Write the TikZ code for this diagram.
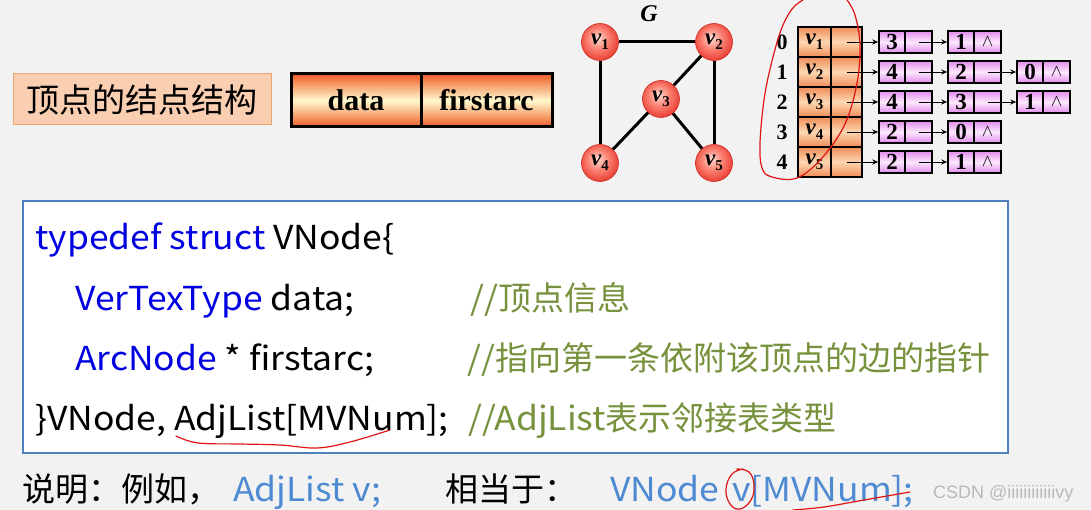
\documentclass[tikz,border=0pt]{standalone}
\usepackage{fontspec}
\setmainfont{Liberation Serif}
\newfontfamily\yh{Noto Sans CJK SC}
\newfontfamily\lat[FakeStretch=1.075]{Noto Sans CJK SC}
\newfontfamily\wm{Liberation Sans}
\usetikzlibrary{arrows.meta}
\definecolor{bg}{RGB}{242,242,242}
\definecolor{peach}{RGB}{250,206,176}
\definecolor{peachline}{RGB}{236,166,116}
\definecolor{hot}{RGB}{240,92,40}
\definecolor{pale}{RGB}{255,250,205}
\definecolor{vorange}{RGB}{240,140,88}
\definecolor{vpale}{RGB}{253,215,178}
\definecolor{lpink}{RGB}{226,140,236}
\definecolor{lpale}{RGB}{252,232,252}
\definecolor{boxblue}{RGB}{79,129,189}
\definecolor{kw}{RGB}{0,0,225}
\definecolor{cmt}{RGB}{118,146,60}
\definecolor{lblue}{RGB}{78,138,210}
\definecolor{wmgray}{RGB}{185,185,185}
\definecolor{pen}{RGB}{225,20,20}
\definecolor{ballhi}{RGB}{255,222,212}
\definecolor{ballmid}{RGB}{250,130,115}
\definecolor{ballred}{RGB}{232,52,42}
\definecolor{ballrim}{RGB}{205,40,30}
\pgfdeclareradialshading{vballshade}{\pgfpoint{-4bp}{6bp}}{color(0bp)=(ballhi); color(14bp)=(ballmid); color(30bp)=(ballred); color(50bp)=(ballred)}
\begin{document}
\begin{tikzpicture}[x=1pt,y=-1pt,
  codetxt/.style={anchor=base west, inner sep=0pt, font=\lat\fontsize{33pt}{40pt}\selectfont},
  vball/.style={circle, minimum size=37pt, inner sep=0pt, shading=vballshade, draw=ballrim, line width=0.6pt},
  edge/.style={line width=3pt, black},
  vcell/.style={draw=black, line width=1.3pt, minimum height=30pt, inner sep=0pt, top color=vorange, bottom color=vorange, middle color=vpale},
  lcell/.style={draw=black, line width=1.5pt, minimum height=22pt, inner sep=0pt, top color=lpink, bottom color=lpink, middle color=lpale},
  ptr/.style={-{Stealth[length=6pt,width=5pt]}, line width=0.9pt, black},
  idx/.style={font=\bfseries\fontsize{22pt}{22pt}\selectfont, inner sep=0pt},
  num/.style={font=\bfseries\fontsize{23pt}{23pt}\selectfont},
  redpen/.style={pen, line width=1.2pt, line cap=round, line join=round}
]
\useasboundingbox (0,0) rectangle (1091,510);
\fill[bg] (0,0) rectangle (1091,510);

% ---- vertex structure label
\node[draw=peachline, fill=peach, line width=1pt, minimum width=258pt, minimum height=51pt, inner sep=0pt,
      font=\yh\fontsize{33pt}{40pt}\selectfont] (vs) at (142,99.5) {顶点的结点结构};
\node[draw=black, line width=3pt, minimum width=130pt, minimum height=53pt, inner sep=0pt,
      top color=hot, bottom color=hot, middle color=pale,
      font=\bfseries\fontsize{30pt}{30pt}\selectfont] (dcell) at (356,100.5) {data};
\node[draw=black, line width=3pt, minimum width=131pt, minimum height=53pt, inner sep=0pt,
      top color=hot, bottom color=hot, middle color=pale,
      font=\bfseries\fontsize{30pt}{30pt}\selectfont] (fcell) at (486.5,100.5) {firstarc};

% ---- graph G
\node[font=\bfseries\itshape\fontsize{24pt}{24pt}\selectfont, inner sep=0pt] (G) at (649,14) {G};
\newcommand{\vlab}[1]{{\bfseries\itshape\fontsize{23pt}{23pt}\selectfont v}\raisebox{-5pt}{\bfseries\fontsize{15pt}{15pt}\selectfont #1}}
\node[vball] (v1) at (600,42) {\vlab{1}};
\node[vball] (v2) at (714,42) {\vlab{2}};
\node[vball] (v3) at (661,99) {\vlab{3}};
\node[vball] (v4) at (600,163) {\vlab{4}};
\node[vball] (v5) at (714,163) {\vlab{5}};
\draw[edge] (v1) -- (v2);
\draw[edge] (v1) -- (v4);
\draw[edge] (v2) -- (v5);
\draw[edge] (v2) -- (v3);
\draw[edge] (v3) -- (v4);
\draw[edge] (v3) -- (v5);

% ---- adjacency list
\foreach \i/\n in {0/1,1/2,2/3,3/4,4/5}{
  \node[idx] (ix\i) at (782,{42+30*\i}) {\i};
  \node[vcell, minimum width=33pt] (va\i) at (814.5,{42+30*\i}) {\vlab{\n}};
  \node[vcell, minimum width=31pt] (vb\i) at (846.5,{42+30*\i}) {};
}
\newcommand{\lnode}[4]{%
  \node[lcell, minimum width=26pt, num] (#1a) at ({#2+13},#3) {#4};
  \node[lcell, minimum width=27pt] (#1b) at ({#2+39.5},#3) {};
}
\newcommand{\nil}[1]{\node[inner sep=0pt, font=\fontsize{18pt}{18pt}\selectfont] at (#1b.center) {$\wedge$};}
% row 0
\lnode{r0n1}{879}{42}{3}\lnode{r0n2}{948}{42}{1}\nil{r0n2}
\draw[ptr] (vb0.center) -- (r0n1a.west);
\draw[ptr] (r0n1b.center) -- (r0n2a.west);
% row 1
\lnode{r1n1}{879}{72}{4}\lnode{r1n2}{948}{72}{2}\lnode{r1n3}{1017}{72}{0}\nil{r1n3}
\draw[ptr] (vb1.center) -- (r1n1a.west);
\draw[ptr] (r1n1b.center) -- (r1n2a.west);
\draw[ptr] (r1n2b.center) -- (r1n3a.west);
% row 2
\lnode{r2n1}{879}{102}{4}\lnode{r2n2}{948}{102}{3}\lnode{r2n3}{1017}{102}{1}\nil{r2n3}
\draw[ptr] (vb2.center) -- (r2n1a.west);
\draw[ptr] (r2n1b.center) -- (r2n2a.west);
\draw[ptr] (r2n2b.center) -- (r2n3a.west);
% row 3
\lnode{r3n1}{879}{132}{2}\lnode{r3n2}{948}{132}{0}\nil{r3n2}
\draw[ptr] (vb3.center) -- (r3n1a.west);
\draw[ptr] (r3n1b.center) -- (r3n2a.west);
% row 4
\lnode{r4n1}{879}{162}{2}\lnode{r4n2}{948}{162}{1}\nil{r4n2}
\draw[ptr] (vb4.center) -- (r4n1a.west);
\draw[ptr] (r4n1b.center) -- (r4n2a.west);

% ---- code box
\node[draw=boxblue, line width=2pt, fill=white, minimum width=985pt, minimum height=252pt, inner sep=0pt] (code) at (515.5,327) {};
\node[codetxt] (c1) at (35,250) {\color{kw}typedef struct \color{black}VNode\{};
\node[codetxt] (c2) at (75,310) {\color{kw}VerTexType \color{black}data;};
\node[codetxt, text=cmt] (c2c) at (470,310) {//{\yh 顶点信息}};
\node[codetxt] (c3) at (75,370) {\color{kw}ArcNode \color{black}* firstarc;};
\node[codetxt, text=cmt] (c3c) at (467,370) {//{\yh 指向第一条依附该顶点的边的指针}};
\node[codetxt] (c4) at (35,430) {\}VNode, AdjList[MVNum];};
\node[codetxt, text=cmt] (c4c) at (468,430) {//AdjList{\yh 表示邻接表类型}};

% ---- bottom note
\node[codetxt, font=\yh\fontsize{33pt}{40pt}\selectfont] (b1) at (22,501) {说明：例如，};
\node[codetxt, text=lblue] (b2) at (233,501) {AdjList v;};
\node[codetxt, font=\yh\fontsize{33pt}{40pt}\selectfont] (b3) at (445,501) {相当于：};
\node[codetxt, text=lblue] (b4) at (610,501) {VNode};
\node[codetxt, text=lblue] (b5) at (732,501) {v[MVNum];};

\node[anchor=base west, inner sep=0pt, text=wmgray, font=\wm\fontsize{18pt}{18pt}\selectfont] (wm) at (933,498) {CSDN @iiiiiiiiiiiivy};

% ---- red pen marks
\draw[redpen] plot[smooth, tension=0.6] coordinates {(803,0) (792,9) (781,30) (771,65) (764,100) (760,143) (762,168) (772,177) (797,178) (822,158) (845,124) (857,83) (860,45) (855,15) (847,0)};
\draw[redpen] plot[smooth, tension=0.6] coordinates {(176,436) (198,443) (240,444) (280,445) (317,448) (350,442) (390,430)};
\draw[redpen] plot[smooth, tension=0.7] coordinates {(743,469) (732,474) (726,489) (730,504) (740,509) (751,500) (754,485) (749,472) (737,469)};
\draw[redpen] plot[smooth, tension=0.6] coordinates {(793,510) (824,507) (864,500) (910,492)};
\end{tikzpicture}
\end{document}
